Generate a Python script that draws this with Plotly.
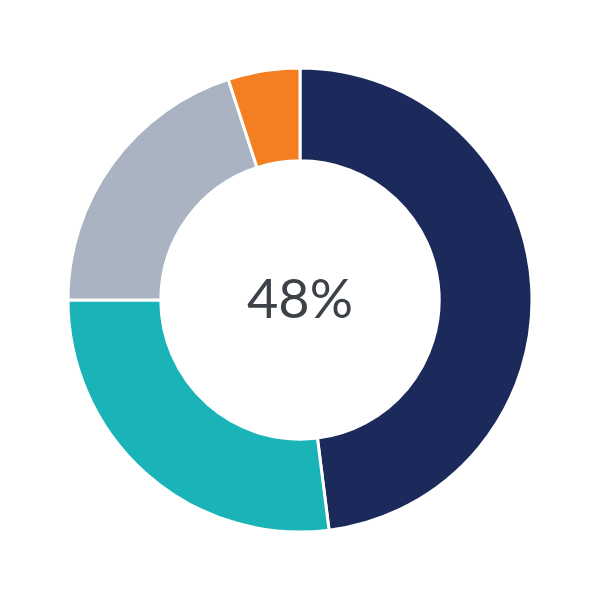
import plotly.graph_objects as go

labels = ["Navy", "Teal", "Gray", "Orange"]
values = [48, 27, 20, 5]
colors = ["#1B2A5A", "#1AB4B8", "#A9B3C1", "#F37F22"]
center_text = "48%"

fig = go.Figure(go.Pie(
    labels=labels, values=values, hole=0.6, sort=False, direction="clockwise",
    rotation=0, marker=dict(colors=colors, line=dict(color="white", width=3)),
    textinfo="none", hoverinfo="label+percent", showlegend=False,
))
fig.add_annotation(text=center_text, x=0.5, y=0.5, xref="paper", yref="paper",
                   showarrow=False, yshift=3,
                   font=dict(family="Lato", size=54, color="#3D4249"))
fig.update_layout(width=600, height=600, margin=dict(l=60, r=76, t=60, b=76),
                  paper_bgcolor="white", plot_bgcolor="white")
fig.write_html("out.html")
